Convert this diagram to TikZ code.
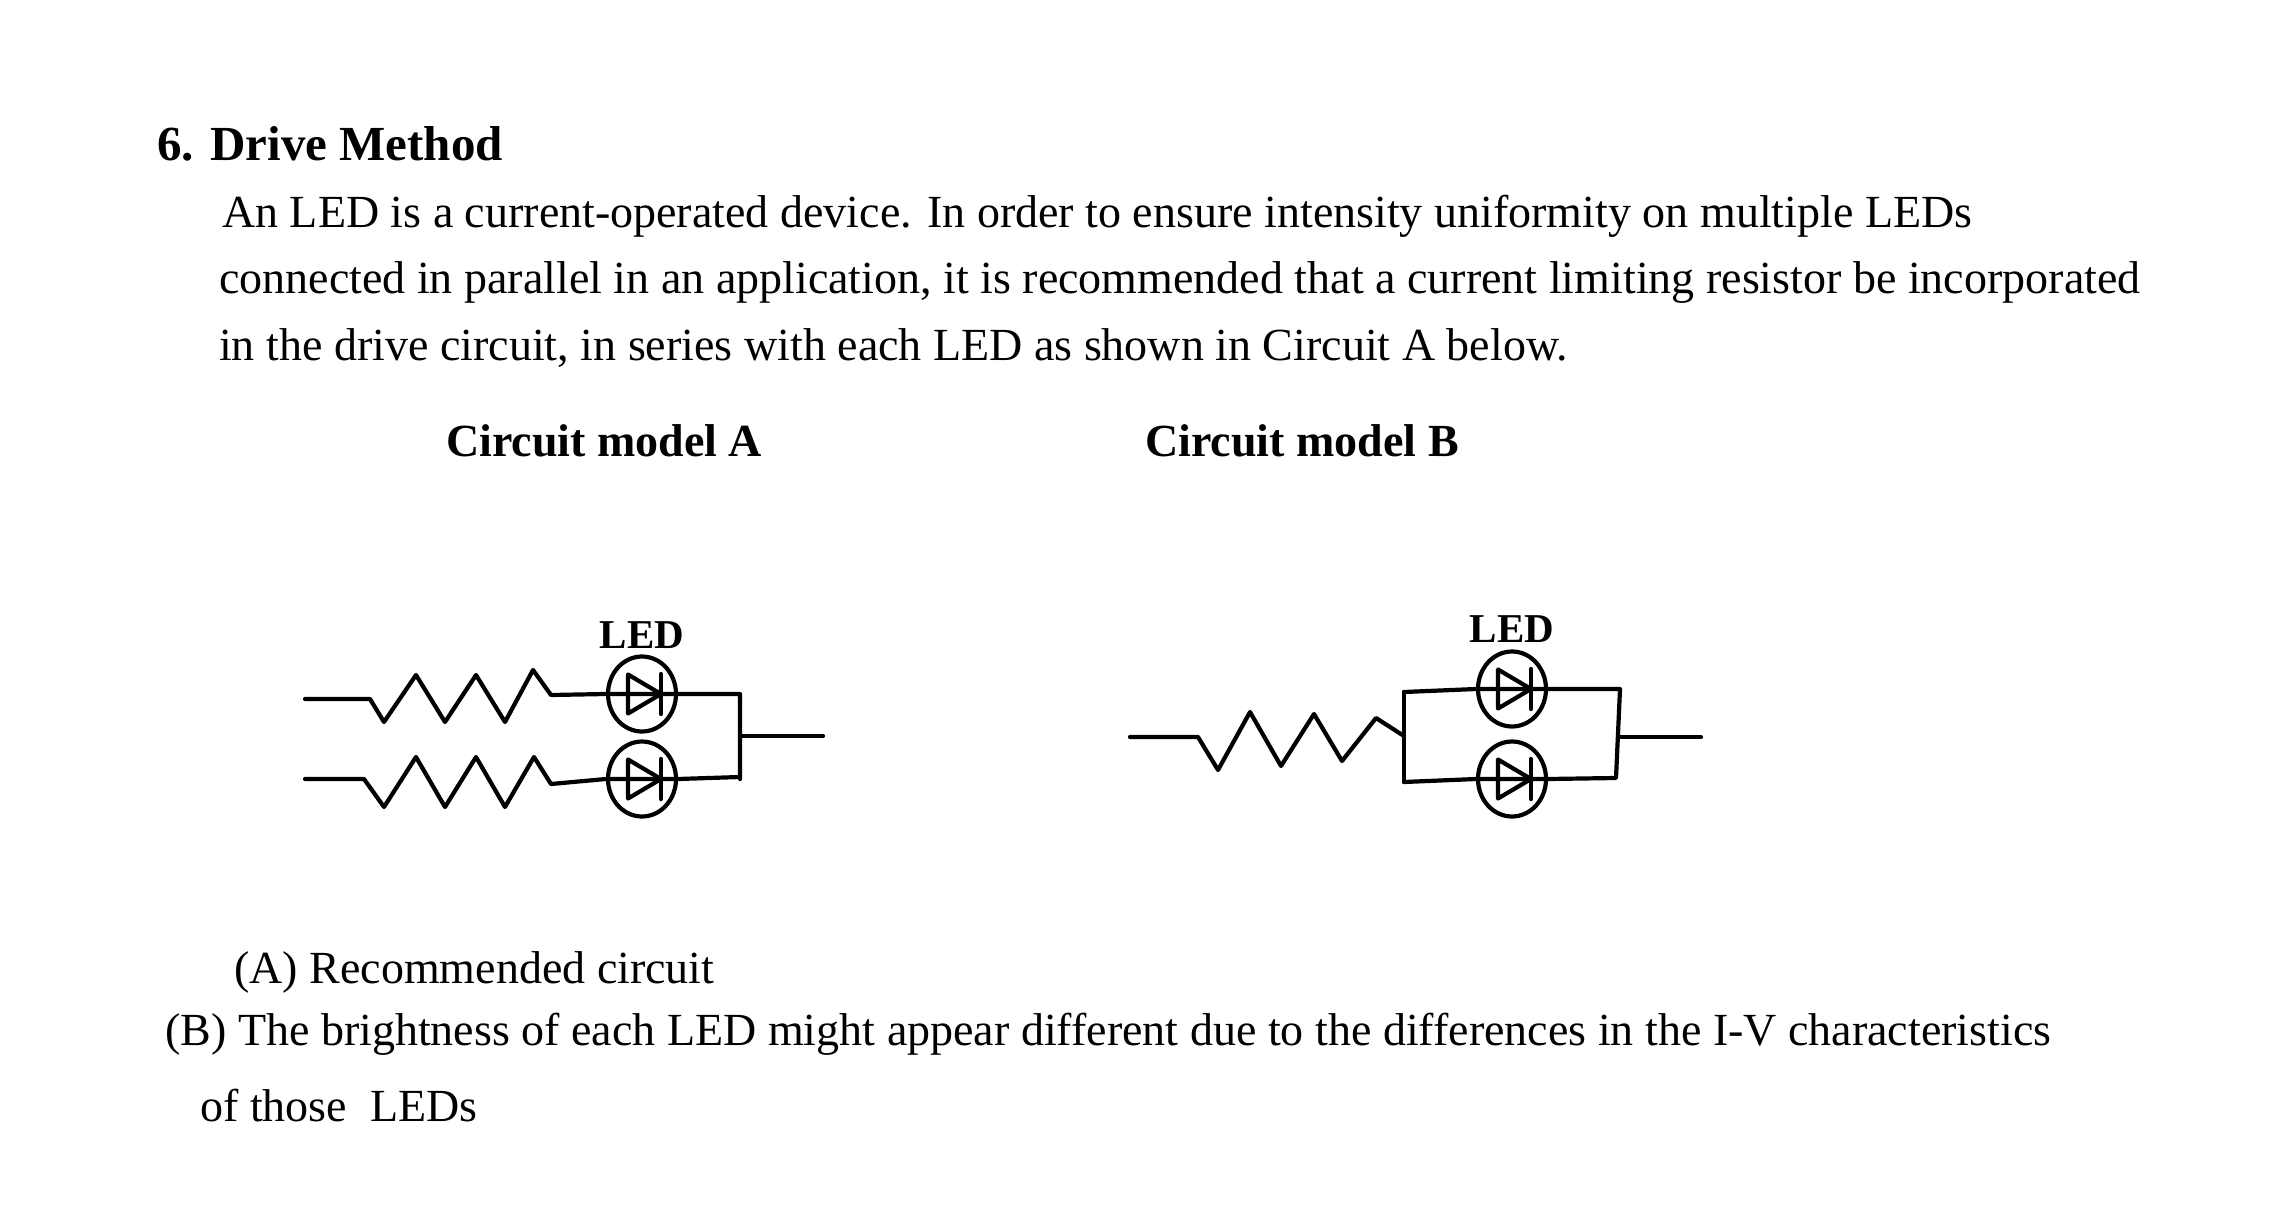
\documentclass[tikz,border=0pt]{standalone}
\usepackage{fontspec}
\setmainfont{Liberation Serif}
\usetikzlibrary{shapes.geometric}
\begin{document}
\begin{tikzpicture}[x=1pt,y=-1pt,
  txt/.style={anchor=base west,inner sep=0,font=\fontsize{46}{52}\selectfont},
  hd/.style={anchor=base,inner sep=0,font=\fontsize{46}{52}\selectfont\bfseries},
  led/.style={draw,ellipse,minimum width=68,minimum height=75,inner sep=0,line width=4.2},
  w/.style={line width=4.2,line join=round,line cap=round}]
\useasboundingbox (0,0) rectangle (2283,1217);
\node[txt,font=\fontsize{49}{55}\selectfont\bfseries] (t) at (157,161) {6. Drive Method};
\node[txt] (l1) at (222,227) {An LED is a current-operated device. In order to ensure intensity uniformity on multiple LEDs};
\node[txt] (l2) at (219,293) {connected in parallel in an application, it is recommended that a current limiting resistor be incorporated};
\node[txt] (l3) at (219,360) {in the drive circuit, in series with each LED as shown in Circuit A below.};
\node[hd] (ca) at (604,456) {Circuit model A};
\node[hd] (cb) at (1302,456) {Circuit model B};
\node[txt] (a) at (234,983) {(A) Recommended circuit};
\node[txt] (b) at (165,1045) {(B) The brightness of each LED might appear different due to the differences in the I-V characteristics};
\node[txt] (c) at (200,1121) {of those\ \ LEDs};
\node[hd,font=\fontsize{41}{46}\selectfont\bfseries] (la) at (642,648) {LED};
\node[hd,font=\fontsize{41}{46}\selectfont\bfseries] (lb) at (1512,642) {LED};
% circuit A
\node[led] (d1) at (642,694) {};
\node[led] (d2) at (642,779) {};
\coordinate (a1) at (305,699); \coordinate (a2) at (305,779);
\coordinate (ja) at (740,736); \coordinate (oa) at (823,736);
\draw[w] (a1) -- (370,699) -- (384,722) -- (416,675) -- (445,722) -- (476,675) -- (505,722) -- (533,670) -- (551,695) -- (d1.west) -- (d1.east) -- (740,694) -- (740,779);
\draw[w] (a2) -- (364,779) -- (384,807) -- (416,757) -- (445,807) -- (476,757) -- (505,807) -- (534,757) -- (551,784) -- (d2.west) -- (d2.east) -- (740,777);
\draw[w] (ja) -- (oa);
\foreach \d in {d1,d2}{
  \draw[w] ([xshift=-14,yshift=-19.5]\d.center) -- ([xshift=-14,yshift=19.5]\d.center) -- ([xshift=19]\d.center) -- cycle;
  \draw[w] ([xshift=19,yshift=-20]\d.center) -- ([xshift=19,yshift=20]\d.center);}
% circuit B
\node[led] (e1) at (1512,689) {};
\node[led] (e2) at (1512,779) {};
\coordinate (b0) at (1130,737); \coordinate (bo) at (1701,737);
\draw[w] (b0) -- (1198,737) -- (1218,770) -- (1250,712) -- (1281,766) -- (1314,714) -- (1342,761) -- (1376,718) -- (1404,736);
\draw[w] (1404,692) -- (1404,782);
\draw[w] (1404,692) -- (e1.west) -- (e1.east) -- (1620,689) -- (1616,778) -- (e2.east) -- (e2.west) -- (1404,782);
\draw[w] (1618,737) -- (bo);
\foreach \d in {e1,e2}{
  \draw[w] ([xshift=-14,yshift=-19.5]\d.center) -- ([xshift=-14,yshift=19.5]\d.center) -- ([xshift=19]\d.center) -- cycle;
  \draw[w] ([xshift=19,yshift=-20]\d.center) -- ([xshift=19,yshift=20]\d.center);}
\end{tikzpicture}
\end{document}
